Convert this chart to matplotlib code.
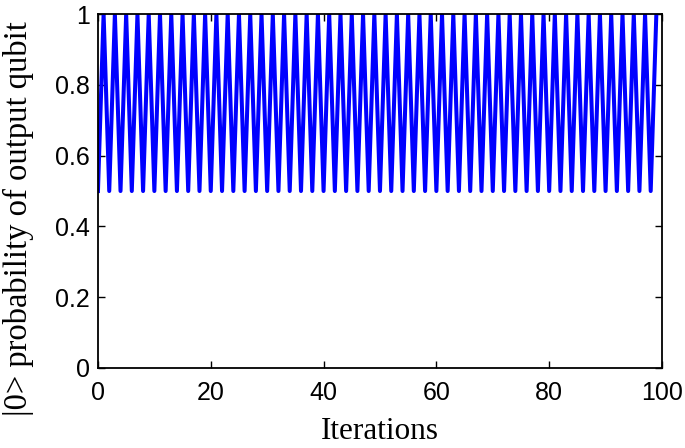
import numpy as np
import matplotlib
matplotlib.use("Agg")
import matplotlib.pyplot as plt

# iterations 0..99, output qubit alternates between |0> probability 0.5 and 1
iterations = list(range(0, 100))
prob_zero = [0.5 if i % 2 == 0 else 1.0 for i in iterations]

x_ticks = [0, 20, 40, 60, 80, 100]
y_ticks = [0, 0.2, 0.4, 0.6, 0.8, 1]
y_tick_labels = ["0", "0.2", "0.4", "0.6", "0.8", "1"]

fig = plt.figure(figsize=(6.85, 4.48), dpi=100)
ax = fig.add_axes([0.143, 0.1786, 0.8234, 0.790])

ax.plot(iterations, prob_zero, color="#0000ff", linewidth=2.9)

ax.set_xlim(0, 100)
ax.set_ylim(0, 1)
ax.set_xticks(x_ticks)
ax.set_yticks(y_ticks)
ax.set_yticklabels(y_tick_labels)

ax.tick_params(direction="in", top=True, right=True, length=5, width=1,
               labelsize=18)
ax.tick_params(axis="x", pad=9.5)
ax.tick_params(axis="y", pad=6)
for lab in ax.get_xticklabels() + ax.get_yticklabels():
    lab.set_family("Liberation Sans")
for sp in ax.spines.values():
    sp.set_linewidth(1.3)

ax.set_xlabel("Iterations", family="Liberation Serif", fontsize=22.5)
ax.set_ylabel("|0> probability of output qubit", family="Liberation Serif",
              fontsize=23.5)
ax.xaxis.set_label_coords(0.5, -0.138)
ax.yaxis.set_label_coords(-0.113, 0.421)

fig.savefig("out.png", dpi=100)
